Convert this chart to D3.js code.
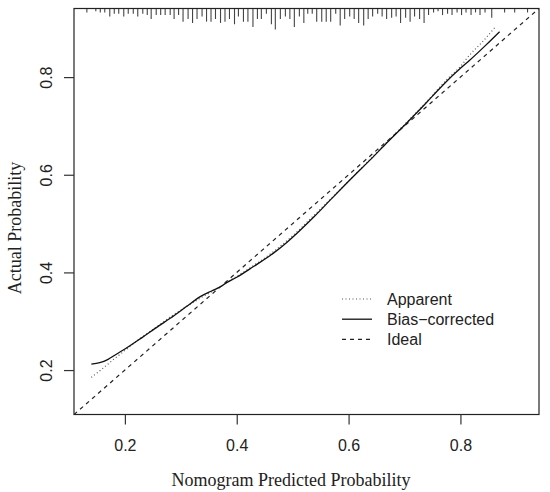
<!DOCTYPE html>
<html>
<head>
<meta charset="utf-8">
<script src="https://cdn.jsdelivr.net/npm/d3@7"></script>
<style>
  body { margin: 0; background: #fff; }
  svg { display: block; }
</style>
</head>
<body>
<script>
// bias-corrected calibration curve (predicted, actual)
let biasX = [0.140, 0.155, 0.170, 0.184, 0.200, 0.230, 0.260, 0.281, 0.310, 0.334, 0.355, 0.370,
             0.382, 0.400, 0.430, 0.465, 0.490, 0.513, 0.540, 0.567, 0.608, 0.640, 0.668, 0.704,
             0.727, 0.750, 0.775, 0.800, 0.817, 0.845, 0.870];
let biasY = [0.212, 0.215, 0.222, 0.232, 0.243, 0.266, 0.290, 0.306, 0.330, 0.350, 0.362, 0.370,
             0.379, 0.390, 0.412, 0.439, 0.462, 0.486, 0.516, 0.548, 0.596, 0.632, 0.665, 0.706,
             0.733, 0.761, 0.791, 0.818, 0.835, 0.865, 0.893];

// apparent calibration curve
let appX = [0.140, 0.160, 0.180, 0.200, 0.224, 0.250, 0.280, 0.300, 0.330, 0.360, 0.380, 0.400,
            0.430, 0.465, 0.500, 0.540, 0.580, 0.620, 0.660, 0.700, 0.740, 0.775, 0.800, 0.817,
            0.840, 0.864];
let appY = [0.185, 0.203, 0.222, 0.240, 0.262, 0.283, 0.308, 0.323, 0.344, 0.364, 0.378, 0.392,
            0.414, 0.442, 0.475, 0.519, 0.564, 0.610, 0.657, 0.703, 0.750, 0.794, 0.822, 0.846,
            0.873, 0.905];

// distribution of predicted probabilities (spikes at top)
let rugX = [0.132, 0.148, 0.156, 0.164, 0.173, 0.181, 0.189, 0.198, 0.206, 0.215,
            0.223, 0.232, 0.240, 0.247, 0.256, 0.264, 0.272, 0.281, 0.288, 0.296,
            0.304, 0.313, 0.321, 0.329, 0.338, 0.346, 0.354, 0.362, 0.371, 0.379,
            0.387, 0.396, 0.403, 0.412, 0.420, 0.429, 0.437, 0.444, 0.453, 0.462,
            0.469, 0.478, 0.487, 0.495, 0.503, 0.512, 0.520,
            0.527, 0.535, 0.543, 0.552, 0.560, 0.568, 0.577, 0.585, 0.593, 0.602,
            0.610, 0.618, 0.627, 0.635, 0.643, 0.652, 0.660, 0.668, 0.677, 0.685,
            0.693, 0.702, 0.710, 0.718, 0.727, 0.735, 0.743, 0.752, 0.760, 0.768,
            0.777, 0.785, 0.794, 0.802, 0.810, 0.819, 0.827, 0.835, 0.844, 0.856,
            0.879, 0.897, 0.920];
let rugN = [3, 2, 3, 3, 6, 4, 4, 6, 4, 4,
            6, 4, 5, 8, 5, 5, 5, 5, 8, 5,
            10, 8, 11, 8, 6, 10, 10, 8, 11, 10,
            8, 12, 6, 10, 10, 14, 8, 8, 4, 12,
            16, 8, 6, 8, 14, 6, 11,
            4, 4, 10, 10, 10, 10, 4, 13, 8, 6,
            8, 11, 13, 8, 6, 4, 6, 8, 7, 6,
            11, 7, 10, 6, 8, 11, 5, 3, 2, 5,
            4, 5, 3, 5, 3, 5, 3, 5, 3, 7,
            3, 3, 3];

let axisTicks = [0.2, 0.4, 0.6, 0.8];
let legendLabels = ["Apparent", "Bias\u2212corrected", "Ideal"];
let domain = [0.109, 0.9405];

let svgWidth = 550, svgHeight = 492;
let margin = {top: 8.5, right: 11, bottom: 77.5, left: 74};
let width = svgWidth - margin.left - margin.right;
let height = svgHeight - margin.top - margin.bottom;

let svg = d3.select("body").append("svg")
  .attr("width", svgWidth)
  .attr("height", svgHeight);

let plot = svg.append("g")
  .attr("transform", "translate(" + margin.left + "," + margin.top + ")");

let x = d3.scaleLinear().domain(domain).range([0, width]);
let y = d3.scaleLinear().domain(domain).range([height, 0]);
let spike = d3.scaleLinear().domain([0, 16]).range([0, 21]);

plot.append("clipPath").attr("id", "clip")
  .append("rect").attr("width", width).attr("height", height);

// spikes hanging from the top edge
plot.append("g").selectAll("line")
  .data(rugX)
  .enter().append("line")
    .attr("x1", d => x(d)).attr("x2", d => x(d))
    .attr("y1", 0)
    .attr("y2", (d, i) => spike(rugN[i]))
    .style("stroke", "#444")
    .style("stroke-width", 1.1);

let line = d3.line()
  .x(d => x(d[0]))
  .y(d => y(d[1]))
  .curve(d3.curveMonotoneX);

let styles = [
  {dash: "1,2.5", color: "#555", w: 1.2},
  {dash: null, color: "#111", w: 1.3},
  {dash: "4,4", color: "#222", w: 1.2}
];

let lines = plot.append("g").attr("clip-path", "url(#clip)");

// ideal
lines.append("path")
  .datum(domain.map(d => [d, d]))
  .attr("d", d3.line().x(d => x(d[0])).y(d => y(d[1])))
  .style("fill", "none").style("stroke", styles[2].color)
  .style("stroke-width", styles[2].w).style("stroke-dasharray", styles[2].dash);

// apparent
lines.append("path")
  .datum(appX.map((d, i) => [d, appY[i]]))
  .attr("d", line)
  .style("fill", "none").style("stroke", styles[0].color)
  .style("stroke-width", styles[0].w).style("stroke-dasharray", styles[0].dash);

// bias-corrected
lines.append("path")
  .datum(biasX.map((d, i) => [d, biasY[i]]))
  .attr("d", line)
  .style("fill", "none").style("stroke", styles[1].color)
  .style("stroke-width", styles[1].w);

// box
plot.append("rect")
  .attr("width", width).attr("height", height)
  .style("fill", "none").style("stroke", "#222").style("stroke-width", 1.2);

// axes
let xAxis = plot.append("g")
  .attr("transform", "translate(0," + height + ")")
  .call(d3.axisBottom(x).tickValues(axisTicks).tickSize(10).tickFormat(d3.format(".1f")));
let yAxis = plot.append("g")
  .call(d3.axisLeft(y).tickValues(axisTicks).tickSize(10).tickFormat(d3.format(".1f")));

[xAxis, yAxis].forEach(a => {
  a.select(".domain").remove();
  a.selectAll(".tick line").style("stroke", "#333").style("stroke-width", 1.2);
  a.selectAll(".tick text")
    .style("font-family", "'Liberation Sans', Arial, sans-serif")
    .style("font-size", "16px")
    .style("fill", "#222");
});
xAxis.selectAll(".tick text").attr("dy", null).attr("y", 36);
yAxis.selectAll(".tick text")
  .attr("x", null).attr("dy", null)
  .attr("text-anchor", "middle")
  .attr("transform", "translate(-22,0) rotate(-90)");

// axis titles
svg.append("text")
  .attr("x", 291).attr("y", 486)
  .attr("text-anchor", "middle")
  .style("font-family", "'Liberation Serif', 'Times New Roman', serif")
  .style("font-size", "18px")
  .style("fill", "#222")
  .text("Nomogram Predicted Probability");
svg.append("text")
  .attr("transform", "translate(21,228) rotate(-90)")
  .attr("text-anchor", "middle")
  .style("font-family", "'Liberation Serif', 'Times New Roman', serif")
  .style("font-size", "18px")
  .style("fill", "#222")
  .text("Actual Probability");

// legend
let legend = svg.append("g").attr("transform", "translate(342,299)");
legendLabels.forEach((label, i) => {
  let row = legend.append("g").attr("transform", "translate(0," + (i * 20.2) + ")");
  row.append("line")
    .attr("x1", 0).attr("x2", 30)
    .style("stroke", styles[i].color)
    .style("stroke-width", styles[i].w)
    .style("stroke-dasharray", styles[i].dash);
  row.append("text")
    .attr("x", 45).attr("y", 6)
    .style("font-family", "'Liberation Sans', Arial, sans-serif")
    .style("font-size", "16px")
    .style("fill", "#222")
    .text(label);
});
</script>
</body>
</html>
